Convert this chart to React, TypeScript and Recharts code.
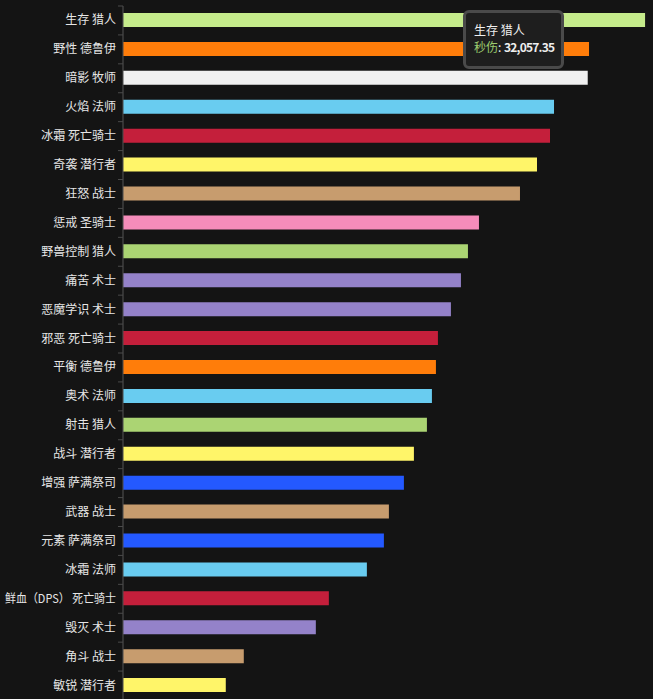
import React from 'react';
import { BarChart, Bar, XAxis, YAxis, CartesianGrid, Tooltip, Cell } from 'recharts';

// spec + class labels, top to bottom
const specs = [
  '生存 猎人', '野性 德鲁伊', '暗影 牧师', '火焰 法师', '冰霜 死亡骑士', '奇袭 潜行者',
  '狂怒 战士', '惩戒 圣骑士', '野兽控制 猎人', '痛苦 术士', '恶魔学识 术士', '邪恶 死亡骑士',
  '平衡 德鲁伊', '奥术 法师', '射击 猎人', '战斗 潜行者', '增强 萨满祭司', '武器 战士',
  '元素 萨满祭司', '冰霜 法师', '鲜血（DPS） 死亡骑士', '毁灭 术士', '角斗 战士', '敏锐 潜行者',
];

const classes = [
  'hunter', 'druid', 'priest', 'mage', 'dk', 'rogue',
  'warrior', 'paladin', 'hunter', 'warlock', 'warlock', 'dk',
  'druid', 'mage', 'hunter', 'rogue', 'shaman', 'warrior',
  'shaman', 'mage', 'dk', 'warlock', 'warrior', 'rogue',
];

const dps = [
  32057.35, 28616, 28536, 26466, 26220, 25421,
  24376, 21857, 21181, 20751, 20136, 19338,
  19215, 18969, 18662, 17863, 17249, 16327,
  16020, 14975, 12640, 11841, 7417, 6311,
];

const xTicks = [0, 5000, 10000, 15000, 20000, 25000, 30000, 35000];

const classColors: Record<string, string> = {
  hunter: '#ABD473',
  druid: '#FF7D0A',
  priest: '#F0F0F0',
  mage: '#69CCF0',
  dk: '#C41F3B',
  rogue: '#FFF569',
  warrior: '#C79C6E',
  paladin: '#F58CBA',
  warlock: '#9482C9',
  shaman: '#2459FF',
};

const activeIndex = 0;
const activeColor = '#C5EB8B';

const data = specs.map((name, i) => ({ name, cls: classes[i], dps: dps[i] }));

const TOP = 6;
const PLOT_H = 694;
const band = PLOT_H / specs.length;
const font = '"Noto Sans CJK SC", "Noto Sans", sans-serif';
const LABEL_MAX = 111;

const SpecTick = (props: any) => {
  const { x, y, payload, index } = props;
  const label: string = payload.value;
  // long label (with full-width brackets) is squeezed to fit the axis
  const squeeze = label.includes('（') ? { textLength: LABEL_MAX, lengthAdjust: 'spacingAndGlyphs' } : {};
  return (
    <g>
      <line x1={x + 2} x2={x + 7} y1={y - band / 2} y2={y - band / 2} stroke="#4a4a4a" />
      {index === specs.length - 1 && (
        <line x1={x + 2} x2={x + 7} y1={y + band / 2} y2={y + band / 2} stroke="#4a4a4a" />
      )}
      <text x={x} y={y} dy={4} textAnchor="end" fill="#e6e6e6" fontSize={12} fontFamily={font} {...squeeze}>
        {label}
      </text>
    </g>
  );
};

const DpsTooltip = ({ payload }: any) => {
  if (!payload || !payload.length) return null;
  const entry = payload[0].payload;
  return (
    <div
      style={{
        background: '#1e1e1e',
        border: '3px solid #4a4a4a',
        borderRadius: 6,
        padding: '8px 7px 11px 8px',
        fontFamily: font,
        fontSize: 12,
        lineHeight: '17px',
        color: '#eeeeee',
        whiteSpace: 'nowrap',
      }}
    >
      <div>{entry.name}</div>
      <div>
        <span style={{ color: '#9ccc6e' }}>秒伤</span>
        <span>:&nbsp;</span>
        <span style={{ fontWeight: 'bold', fontSize: 12, letterSpacing: -0.8 }}>
          {entry.dps.toLocaleString('en-US', { minimumFractionDigits: 2, maximumFractionDigits: 2 })}
        </span>
      </div>
    </div>
  );
};

export default function App() {
  return (
    <div
      style={{
        position: 'fixed',
        left: 0,
        top: 0,
        width: 653,
        height: 699,
        overflow: 'hidden',
        background: '#141414',
      }}
    >
      <BarChart
        width={710}
        height={TOP + PLOT_H + 40}
        data={data}
        layout="vertical"
        margin={{ top: TOP, right: 17, left: 0, bottom: 10 }}
        barCategoryGap={0}
      >
        <CartesianGrid horizontal={false} stroke="#2a2a2a" />
        <XAxis
          type="number"
          domain={[0, 35000]}
          ticks={xTicks}
          axisLine={false}
          tickLine={false}
          tick={false}
          height={30}
        />
        <YAxis
          type="category"
          dataKey="name"
          width={123}
          stroke="#4a4a4a"
          tickLine={false}
          tickSize={5}
          tickMargin={2}
          interval={0}
          tick={<SpecTick />}
        />
        <Tooltip
          active
          defaultIndex={activeIndex}
          position={{ x: 463, y: 10 }}
          cursor={false}
          isAnimationActive={false}
          content={<DpsTooltip />}
          wrapperStyle={{ outline: 'none' }}
        />
        <Bar dataKey="dps" barSize={14} isAnimationActive={false} activeBar={false}>
          {data.map((d, i) => (
            <Cell key={d.name} fill={i === activeIndex ? activeColor : classColors[d.cls]} />
          ))}
        </Bar>
      </BarChart>
    </div>
  );
}
